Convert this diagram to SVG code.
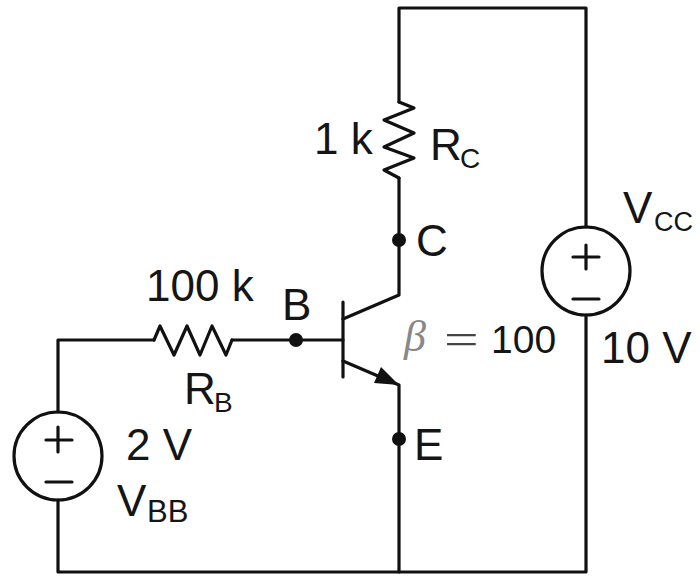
<svg xmlns="http://www.w3.org/2000/svg" width="700" height="586" viewBox="0 0 700 586">
<style>
.w{fill:none;stroke:#111;stroke-width:3.2;stroke-linejoin:round;stroke-linecap:round}
.t{font-family:"Liberation Sans",Arial,sans-serif;font-size:44px;fill:#151515}
.s{font-size:28px}
.d{fill:#111}
</style>
<rect width="700" height="586" fill="#fff"/>
<g id="connectors" class="w">
<path d="M399 102V8H586V227"/>
<path d="M586 315V572H58V500"/>
<path d="M58 412V340H154"/>
<path d="M232 340H343"/>
<path d="M399 178V295L343 319"/>
<path d="M343 361L399 385V572"/>
</g>
<g id="RC"><path class="w" d="M399 102L414 108L384 120L414 133L384 147L414 158L384 170L399 178"/><text class="t" x="314" y="154">1 k</text><text class="t" x="430" y="160">R<tspan class="s" dy="8" x="460">C</tspan></text></g>
<g id="RB"><path class="w" d="M154 340L160 326L174 355L187 326L200 355L212 326L226 355L232 340"/><text class="t" x="146" y="301">100 k</text><text class="t" x="184" y="404">R<tspan class="s" dy="8" x="214">B</tspan></text></g>
<g id="Q"><path class="w" d="M343 302V377"/><path class="d" d="M399 385L374 383L381 367Z"/><text class="t" x="404" y="351" style="font-family:'Liberation Serif',serif;font-style:italic;fill:#888">β</text><text class="t" transform="translate(444 354) scale(1.4 1)" style="font-family:'Liberation Serif',serif;fill:#444">=</text><text class="t" x="491" y="353" style="font-size:39px">100</text></g>
<g id="nodeB"><circle class="d" cx="296" cy="340" r="7"/><text class="t" x="282" y="320">B</text></g>
<g id="nodeC"><circle class="d" cx="399" cy="240" r="7"/><text class="t" x="416" y="256">C</text></g>
<g id="nodeE"><circle class="d" cx="399" cy="439" r="7"/><text class="t" x="414" y="460">E</text></g>
<g id="VBB"><circle class="w" cx="58" cy="456" r="44"/><path class="w" d="M46 440H72M58 427V452M46 482H72"/><text class="t" x="126" y="460">2 V</text><text class="t" x="117" y="516">V<tspan dy="6" x="147" style="font-size:31px">BB</tspan></text></g>
<g id="VCC"><circle class="w" cx="586" cy="271" r="44"/><path class="w" d="M573 257H599M586 245V269M573 299H599"/><text class="t" x="601" y="363">10 V</text><text class="t" x="623" y="223">V<tspan dy="8" x="654" style="font-size:27px">CC</tspan></text></g>
</svg>
